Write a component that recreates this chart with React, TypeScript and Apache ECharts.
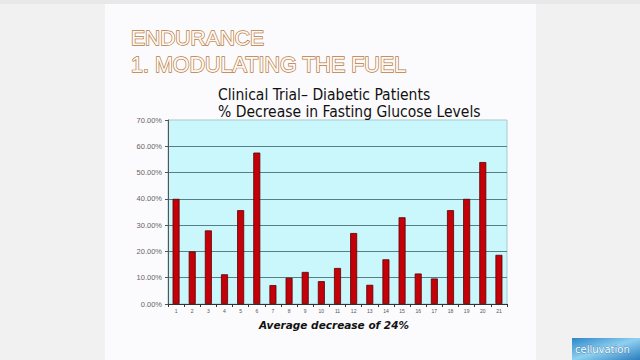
import React, { useEffect, useRef } from "react";
import * as echarts from "echarts";

const categories = ["1","2","3","4","5","6","7","8","9","10","11","12","13","14","15","16","17","18","19","20","21"];
const decreaseValues = [0.40, 0.20, 0.28, 0.113, 0.357, 0.576, 0.072, 0.10, 0.122, 0.087, 0.137, 0.27, 0.073, 0.17, 0.33, 0.116, 0.097, 0.357, 0.40, 0.54, 0.187];
const titleLines = ["ENDURANCE", "1. MODULATING THE FUEL"];
const chartTitle = ["Clinical Trial\u2013 Diabetic Patients", "% Decrease in Fasting Glucose Levels"];
const footnote = "Average decrease of 24%";
const logoText = "celluvation";

export default function App() {
  const ref = useRef<HTMLDivElement>(null);
  useEffect(() => {
    if (!ref.current) return;
    const chart = echarts.init(ref.current, null, { renderer: "svg" });
    chart.setOption({
      animation: false,
      backgroundColor: "#f1f1f1",
      graphic: [
        { type: "rect", z: -10, shape: { x: 105, y: 0, width: 431, height: 360 }, style: { fill: "#fbfafc" } },
        { type: "rect", z: -9, shape: { x: 0, y: 0, width: 640, height: 4 }, style: { fill: "#e8e8e8" } },
        {
          type: "text", x: 131, y: 27,
          style: { text: titleLines[0], font: "21px 'Liberation Sans'", fill: "#fdf8f2", stroke: "#b87a42", lineWidth: 1.4 },
        },
        {
          type: "text", x: 131, y: 54,
          style: { text: titleLines[1], font: "21.5px 'Liberation Sans'", fill: "#fdf8f2", stroke: "#b87a42", lineWidth: 1.4 },
        },
        {
          type: "text", x: 218, y: 87,
          style: { text: chartTitle[0], font: "15.5px 'DejaVu Sans Condensed', 'Liberation Sans'", fill: "#111" },
        },
        {
          type: "text", x: 218, y: 104,
          style: { text: chartTitle[1], font: "15.5px 'DejaVu Sans Condensed', 'Liberation Sans'", fill: "#111" },
        },
        {
          type: "text", x: 334, y: 325,
          style: { text: footnote, font: "italic bold 10.5px 'DejaVu Sans'", fill: "#111", align: "center", verticalAlign: "middle" },
        },
        {
          type: "rect", shape: { x: 572, y: 338, width: 68, height: 22 },
          style: {
            fill: new echarts.graphic.LinearGradient(0, 0, 1, 1, [
              { offset: 0, color: "#2a86c8" },
              { offset: 0.5, color: "#8fd0f0" },
              { offset: 1, color: "#2a7dbe" },
            ]),
          },
        },
        {
          type: "text", x: 575, y: 349,
          style: { text: logoText, font: "10px 'DejaVu Sans'", fill: "#ffffff", verticalAlign: "middle", stroke: "#1a5f95", lineWidth: 0.5 },
        },
      ],
      grid: {
        left: 168, right: 133, top: 120, bottom: 56,
        show: true, backgroundColor: "#c9f7fc", borderColor: "#a9c9cc", borderWidth: 1,
      },
      xAxis: {
        type: "category",
        data: categories,
        axisLine: { lineStyle: { color: "#333", width: 1 } },
        axisTick: { show: true, length: 3, lineStyle: { color: "#333" } },
        axisLabel: { fontSize: 5, color: "#555", margin: 4, fontFamily: "'Liberation Sans'" },
      },
      yAxis: {
        type: "value",
        min: 0, max: 0.7, interval: 0.1,
        axisLine: { show: true, lineStyle: { color: "#555" } },
        axisTick: { show: true, length: 3, lineStyle: { color: "#555" } },
        axisLabel: {
          fontSize: 7.5, color: "#666", margin: 6, fontFamily: "'Liberation Sans'",
          formatter: (v: number) => (v * 100).toFixed(2) + "%",
        },
        splitLine: { show: true, showMaxLine: false, lineStyle: { color: "#557f84", width: 1 } },
      },
      series: [
        {
          type: "bar",
          data: decreaseValues,
          barWidth: 7,
          itemStyle: { color: "#c40008", borderColor: "#5a0000", borderWidth: 0.8 },
        },
      ],
    });
    return () => chart.dispose();
  }, []);
  return <div ref={ref} style={{ position: "fixed", left: 0, top: 0, width: 640, height: 360 }} />;
}
